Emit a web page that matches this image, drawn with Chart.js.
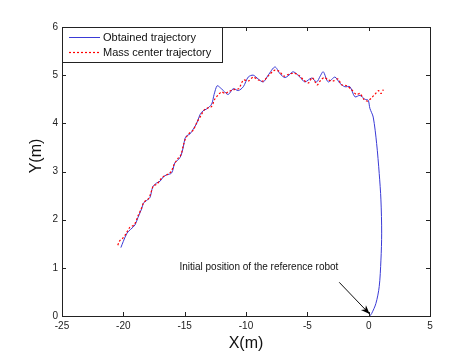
<!DOCTYPE html>
<html>
<head>
<meta charset="utf-8">
<script src="https://cdn.jsdelivr.net/npm/chart.js@4/dist/chart.umd.min.js"></script>
<style>
  html, body { margin: 0; padding: 0; background: #fff; }
  #wrap { width: 474px; height: 355px; }
</style>
</head>
<body>
<div id="wrap"><canvas id="c" width="474" height="355"></canvas></div>
<script>
// ---- data ----
const seriesNames = ['Obtained trajectory', 'Mass center trajectory'];

const obtainedX = [-20.2,-20.0,-19.7,-19.4,-19.05,-18.8,-18.5,-18.37,-18.1,-17.83,-17.6,-17.3,-17.0,-16.74,-16.47,-16.06,-15.8,-15.5,-15.3,-15.11,-14.98,-14.84,-14.57,-14.3,-14.02,-13.75,-13.5,-13.2,-12.8,-12.6,-12.35,-12.1,-11.85,-11.45,-11.04,-10.63,-10.22,-9.82,-9.41,-9.0,-8.59,-8.19,-7.64,-7.23,-6.83,-6.5,-6.15,-5.6,-5.2,-4.65,-4.24,-3.95,-3.7,-3.3,-2.75,-2.34,-1.94,-1.53,-1.12,-0.71,-0.31,-0.04,0.1,0.37,0.65,0.86,1.0,1.06,1.0,0.86,0.59,0.24,0.08];
const obtainedY = [1.42,1.55,1.72,1.80,1.89,2.05,2.23,2.34,2.40,2.46,2.68,2.76,2.80,2.89,2.93,2.97,3.18,3.25,3.33,3.51,3.68,3.74,3.78,3.88,4.00,4.18,4.26,4.30,4.40,4.60,4.78,4.74,4.68,4.60,4.72,4.68,4.76,4.96,5.00,4.92,4.86,5.00,5.17,5.03,4.95,5.00,5.07,4.96,4.86,4.94,4.86,4.98,5.07,4.86,4.96,4.83,4.76,4.76,4.55,4.58,4.50,4.48,4.31,4.13,3.58,2.96,2.41,1.72,1.16,0.61,0.26,0.05,0.00];

const massX = [-20.45,-20.3,-20.1,-19.8,-19.5,-19.1,-18.8,-18.55,-18.3,-18.0,-17.8,-17.55,-17.25,-16.95,-16.7,-16.4,-16.1,-15.85,-15.55,-15.3,-15.1,-14.9,-14.6,-14.3,-14.0,-13.7,-13.4,-13.1,-12.8,-12.55,-12.3,-12.0,-11.7,-11.4,-11.0,-10.6,-10.2,-9.8,-9.4,-9.0,-8.6,-8.2,-7.7,-7.3,-6.9,-6.5,-6.1,-5.7,-5.3,-4.9,-4.6,-4.2,-3.9,-3.6,-3.3,-2.9,-2.5,-2.2,-1.8,-1.4,-1.0,-0.7,-0.4,-0.1,0.2,0.5,0.8,1.0,1.2];
const massY = [1.47,1.56,1.60,1.70,1.83,1.90,2.08,2.22,2.37,2.42,2.52,2.70,2.74,2.84,2.90,2.94,3.00,3.15,3.27,3.35,3.55,3.70,3.80,3.86,4.02,4.15,4.28,4.32,4.35,4.50,4.58,4.65,4.62,4.66,4.70,4.72,4.90,4.88,4.96,4.90,4.88,4.98,5.10,5.08,4.98,5.02,5.04,5.00,4.90,4.84,4.95,4.80,4.90,4.95,4.90,4.88,4.92,4.80,4.78,4.70,4.60,4.62,4.50,4.46,4.52,4.60,4.68,4.62,4.70];

const xTicks = [-25, -20, -15, -10, -5, 0, 5];
const yTicks = [0, 1, 2, 3, 4, 5, 6];
const xTitle = 'X(m)';
const yTitle = 'Y(m)';

const annotationText = 'Initial position of the reference robot';
const annotationTextAt = [-8.95, 1.02];
const arrowFrom = [-2.4, 0.70];
const arrowTo = [0.08, 0.04];

// ---- build chart ----
const zip = (xs, ys) => xs.map((x, i) => ({ x: x, y: ys[i] }));

const blue = '#3a3ad6';
const red = '#ff0000';
const FONT = '"Liberation Sans", Arial, sans-serif';

const framePlugin = {
  id: 'frame',
  beforeDraw(chart) {
    const ctx = chart.ctx;
    ctx.save();
    ctx.fillStyle = '#fff';
    ctx.fillRect(0, 0, chart.width, chart.height);
    ctx.restore();
  },
  afterDraw(chart) {
    const { ctx, chartArea: a, scales } = chart;
    const sx = scales.x, sy = scales.y;
    ctx.save();
    // frame
    ctx.strokeStyle = '#222';
    ctx.lineWidth = 1;
    ctx.strokeRect(Math.round(a.left) + 0.5, Math.round(a.top) + 0.5,
                   Math.round(a.right - a.left), Math.round(a.bottom - a.top));
    // inward ticks
    const tl = 4;
    ctx.beginPath();
    xTicks.forEach(v => {
      const px = Math.round(sx.getPixelForValue(v)) + 0.5;
      ctx.moveTo(px, a.bottom); ctx.lineTo(px, a.bottom - tl);
      ctx.moveTo(px, a.top); ctx.lineTo(px, a.top + tl);
    });
    yTicks.forEach(v => {
      const py = Math.round(sy.getPixelForValue(v)) + 0.5;
      ctx.moveTo(a.left, py); ctx.lineTo(a.left + tl, py);
      ctx.moveTo(a.right, py); ctx.lineTo(a.right - tl, py);
    });
    ctx.stroke();

    // y title
    ctx.fillStyle = '#111';
    ctx.font = '16px ' + FONT;
    ctx.textAlign = 'center';
    ctx.textBaseline = 'middle';
    ctx.save();
    ctx.translate(37, 156);
    ctx.rotate(-Math.PI / 2);
    ctx.fillText(yTitle, 0, 0);
    ctx.restore();

    // annotation
    ctx.font = '10px ' + FONT;
    ctx.fillStyle = '#111';
    ctx.fillText(annotationText, sx.getPixelForValue(annotationTextAt[0]), sy.getPixelForValue(annotationTextAt[1]));
    const x0 = sx.getPixelForValue(arrowFrom[0]), y0 = sy.getPixelForValue(arrowFrom[1]);
    const x1 = sx.getPixelForValue(arrowTo[0]), y1 = sy.getPixelForValue(arrowTo[1]);
    ctx.strokeStyle = '#111';
    ctx.lineWidth = 1;
    ctx.beginPath(); ctx.moveTo(x0, y0); ctx.lineTo(x1, y1); ctx.stroke();
    const ang = Math.atan2(y1 - y0, x1 - x0);
    const L = 9, W = 3.5;
    ctx.beginPath();
    ctx.moveTo(x1, y1);
    ctx.lineTo(x1 - L * Math.cos(ang) + W * Math.sin(ang), y1 - L * Math.sin(ang) - W * Math.cos(ang));
    ctx.lineTo(x1 - L * 0.7 * Math.cos(ang), y1 - L * 0.7 * Math.sin(ang));
    ctx.lineTo(x1 - L * Math.cos(ang) - W * Math.sin(ang), y1 - L * Math.sin(ang) + W * Math.cos(ang));
    ctx.closePath();
    ctx.fillStyle = '#000';
    ctx.fill();

    // legend box
    const bx = a.left, by = a.top, bw = 160, bh = 35;
    ctx.fillStyle = '#fff';
    ctx.fillRect(bx, by, bw, bh);
    ctx.strokeStyle = '#222';
    ctx.strokeRect(bx + 0.5, by + 0.5, bw, bh);
    const ds = chart.data.datasets;
    const rows = [by + 10.5, by + 25.5];
    ds.forEach((d, i) => {
      ctx.strokeStyle = d.borderColor;
      ctx.lineWidth = d.borderWidth;
      ctx.setLineDash(d.borderDash || []);
      ctx.beginPath();
      ctx.moveTo(bx + 7, rows[i]); ctx.lineTo(bx + 38, rows[i]);
      ctx.stroke();
      ctx.setLineDash([]);
      ctx.fillStyle = '#111';
      ctx.font = '11px ' + FONT;
      ctx.textAlign = 'left';
      ctx.textBaseline = 'middle';
      ctx.fillText(d.label, bx + 41, rows[i]);
    });
    ctx.restore();
  }
};

new Chart(document.getElementById('c'), {
  type: 'scatter',
  data: {
    datasets: [
      {
        label: seriesNames[0],
        data: zip(obtainedX, obtainedY),
        showLine: true,
        borderColor: blue,
        borderWidth: 1,
        pointRadius: 0,
        tension: 0.3,
        fill: false,
        order: 2
      },
      {
        label: seriesNames[1],
        data: zip(massX, massY),
        showLine: true,
        borderColor: red,
        borderWidth: 1.2,
        borderDash: [2, 2],
        pointRadius: 0,
        tension: 0.3,
        fill: false,
        order: 1
      }
    ]
  },
  options: {
    responsive: false,
    animation: false,
    layout: { padding: { left: 0, top: 27, right: 44, bottom: 0 } },
    plugins: {
      legend: { display: false },
      tooltip: { enabled: false }
    },
    scales: {
      x: {
        type: 'linear',
        min: -25, max: 5,
        afterBuildTicks: s => { s.ticks = xTicks.map(v => ({ value: v })); },
        afterFit: s => { s.height = 39; },
        grid: { display: false, drawTicks: false },
        border: { display: false },
        ticks: { padding: 4, color: '#222', font: { size: 10, family: FONT }, maxRotation: 0 },
        title: { display: true, text: xTitle, color: '#111', font: { size: 16, family: FONT }, padding: { top: 0, bottom: 2 } }
      },
      y: {
        type: 'linear',
        min: 0, max: 6,
        afterBuildTicks: s => { s.ticks = yTicks.map(v => ({ value: v })); },
        afterFit: s => { s.width = 62; },
        grid: { display: false, drawTicks: false },
        border: { display: false },
        ticks: { padding: 4, color: '#222', font: { size: 10, family: FONT } }
      }
    }
  },
  plugins: [framePlugin]
});
</script>
</body>
</html>
